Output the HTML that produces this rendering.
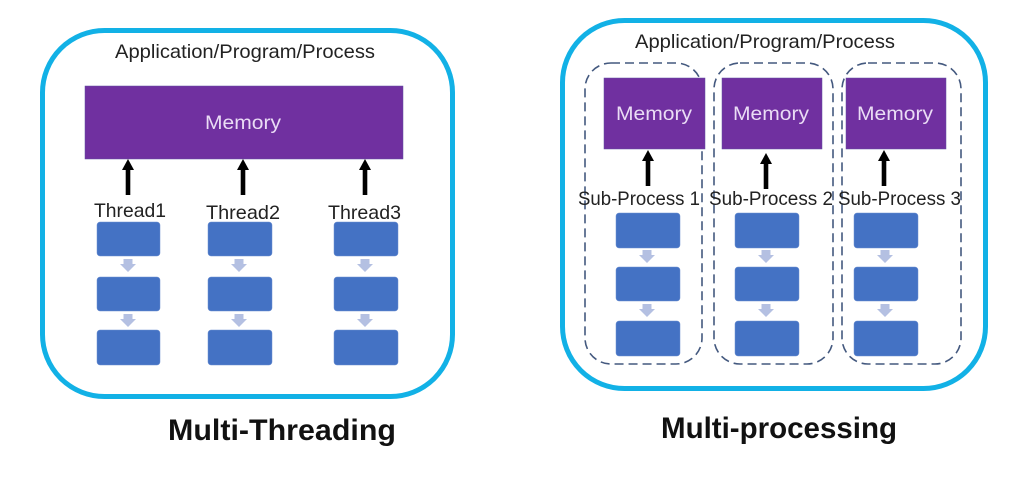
<!DOCTYPE html>
<html>
<head>
<meta charset="utf-8">
<style>
html,body{margin:0;padding:0;background:#fff;width:1025px;height:488px;overflow:hidden}
svg{display:block}
text{font-family:"Liberation Sans",sans-serif;fill:#222}
.b{fill:#4472c4;stroke:#6c8fd0;stroke-width:.5}
.m{fill:#7030a0;stroke:#5f4f9f;stroke-width:.5}
.mt{fill:#eadcf5;font-size:19px;text-anchor:middle}
.l{font-size:19.5px}
.d{fill:none;stroke:#44597f;stroke-width:1.6;stroke-dasharray:9 5}
.o{fill:#fff;stroke:#12b1e6;stroke-width:5}
.t{font-weight:bold;font-size:30px;fill:#111}
</style>
</head>
<body>
<svg width="1025" height="488" viewBox="0 0 1025 488" xmlns="http://www.w3.org/2000/svg">
<defs>
<g id="ar"><rect x="-2.3" y="9" width="4.6" height="27" fill="#000"/><path d="M0 0L6 11H-6Z" fill="#000"/></g>
<g id="sa"><path d="M-4.5 0H4.5V5H8L0 13L-8 5H-4.5Z" fill="#b4c0e2"/></g>
</defs>

<rect class="o" x="42.5" y="30.5" width="410" height="366" rx="62"/>
<text class="l" x="115" y="58" textLength="260" lengthAdjust="spacingAndGlyphs">Application/Program/Process</text>
<rect class="m" x="85" y="86" width="318" height="73"/>
<text class="mt" x="243" y="129" textLength="76" lengthAdjust="spacingAndGlyphs">Memory</text>
<use href="#ar" x="128" y="159"/>
<use href="#ar" x="243" y="159"/>
<use href="#ar" x="365" y="159"/>
<text class="l" x="94" y="217" textLength="72" lengthAdjust="spacingAndGlyphs">Thread1</text>
<text class="l" x="206" y="219" textLength="74" lengthAdjust="spacingAndGlyphs">Thread2</text>
<text class="l" x="328" y="219" textLength="73" lengthAdjust="spacingAndGlyphs">Thread3</text>

<rect class="b" x="97" y="222" width="63" height="34" rx="3"/>
<rect class="b" x="97" y="277" width="63" height="34" rx="3"/>
<rect class="b" x="97" y="330" width="63" height="35" rx="3"/>
<rect class="b" x="208" y="222" width="64" height="34" rx="3"/>
<rect class="b" x="208" y="277" width="64" height="34" rx="3"/>
<rect class="b" x="208" y="330" width="64" height="35" rx="3"/>
<rect class="b" x="334" y="222" width="64" height="34" rx="3"/>
<rect class="b" x="334" y="277" width="64" height="34" rx="3"/>
<rect class="b" x="334" y="330" width="64" height="35" rx="3"/>
<use href="#sa" x="128" y="259"/><use href="#sa" x="128" y="314"/>
<use href="#sa" x="239" y="259"/><use href="#sa" x="239" y="314"/>
<use href="#sa" x="365" y="259"/><use href="#sa" x="365" y="314"/>

<text class="t" x="168" y="440" textLength="228" lengthAdjust="spacingAndGlyphs">Multi-Threading</text>

<rect class="o" x="562.5" y="20.5" width="423" height="368" rx="62"/>
<text class="l" x="635" y="48" textLength="260" lengthAdjust="spacingAndGlyphs">Application/Program/Process</text>

<rect class="d" x="585" y="63" width="117" height="301" rx="26"/>
<rect class="d" x="714" y="63" width="119" height="301" rx="26"/>
<rect class="d" x="842" y="63" width="119" height="301" rx="26"/>

<rect class="m" x="604" y="78" width="101" height="71"/>
<rect class="m" x="722" y="78" width="100" height="71"/>
<rect class="m" x="846" y="78" width="100" height="71"/>
<text class="mt" x="654" y="120" textLength="76" lengthAdjust="spacingAndGlyphs">Memory</text>
<text class="mt" x="771" y="120" textLength="76" lengthAdjust="spacingAndGlyphs">Memory</text>
<text class="mt" x="895" y="120" textLength="76" lengthAdjust="spacingAndGlyphs">Memory</text>
<use href="#ar" x="648" y="150"/>
<use href="#ar" x="766" y="153"/>
<use href="#ar" x="884" y="150"/>

<text class="l" x="578" y="205" textLength="122" lengthAdjust="spacingAndGlyphs">Sub-Process 1</text>
<text class="l" x="709" y="205" textLength="124" lengthAdjust="spacingAndGlyphs">Sub-Process 2</text>
<text class="l" x="838" y="205" textLength="123" lengthAdjust="spacingAndGlyphs">Sub-Process 3</text>

<rect class="b" x="616" y="213" width="64" height="35" rx="3"/>
<rect class="b" x="616" y="267" width="64" height="34" rx="3"/>
<rect class="b" x="616" y="321" width="64" height="35" rx="3"/>
<rect class="b" x="735" y="213" width="64" height="35" rx="3"/>
<rect class="b" x="735" y="267" width="64" height="34" rx="3"/>
<rect class="b" x="735" y="321" width="64" height="35" rx="3"/>
<rect class="b" x="854" y="213" width="64" height="35" rx="3"/>
<rect class="b" x="854" y="267" width="64" height="34" rx="3"/>
<rect class="b" x="854" y="321" width="64" height="35" rx="3"/>
<use href="#sa" x="647" y="250"/><use href="#sa" x="647" y="304"/>
<use href="#sa" x="766" y="250"/><use href="#sa" x="766" y="304"/>
<use href="#sa" x="885" y="250"/><use href="#sa" x="885" y="304"/>

<text class="t" x="661" y="438" textLength="236" lengthAdjust="spacingAndGlyphs">Multi-processing</text>
</svg>
</body>
</html>
